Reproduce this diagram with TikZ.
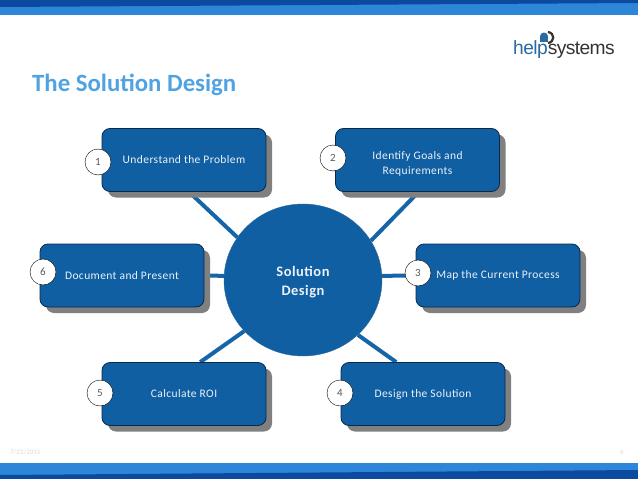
\documentclass[tikz,border=0pt]{standalone}
\usepackage{fontspec}
\usepackage{tikz}
\usetikzlibrary{shapes.geometric,shadows,backgrounds}
\setmainfont{Carlito}
\newfontfamily\logofont[LetterSpace=-3]{Liberation Sans}
\newfontfamily\spacedfont[LetterSpace=3.5]{Carlito}
\definecolor{boxblue}{HTML}{105FA3}
\definecolor{boxedge}{HTML}{0A2A4A}
\definecolor{linkblue}{HTML}{1565A8}
\definecolor{banddark}{HTML}{0B4A9E}
\definecolor{bandlight}{HTML}{2E86D8}
\definecolor{titleblue}{HTML}{4FA3E3}
\tikzset{
	stepbox/.style={draw=boxedge,thick,fill=boxblue,rounded corners=8pt,minimum width=164pt,minimum height=63pt,text=white!92!boxblue,align=center,font=\spacedfont\fontsize{11.5}{15}\selectfont,general shadow={fill=black!50,shadow xshift=6pt,shadow yshift=-6pt}},
	numdot/.style={circle,draw=black,fill=white,minimum size=26pt,inner sep=0pt,text=black!65,font=\fontsize{11}{12}\selectfont},
	hubdot/.style={ellipse,draw=boxblue!75!gray,fill=boxblue,minimum width=158pt,minimum height=152pt,inner sep=0pt,text=white!92!boxblue,align=center,font=\bfseries\spacedfont\fontsize{14.5}{19}\selectfont},
	link/.style={linkblue,line width=4pt},
	footnote/.style={text=black!15,font=\fontsize{7}{8}\selectfont}
}

\begin{document}
\begin{tikzpicture}[x=1pt,y=-1pt]
	\useasboundingbox (0,0) rectangle (638,479);
	\fill[bandlight] (0,0) rectangle (638,15);
	\fill[banddark] (0,0) -- (638,0) -- (638,3) -- (0,7) -- cycle;
	\fill[bandlight] (0,463) rectangle (638,479);
	\fill[banddark] (0,479) -- (638,479) -- (638,470) -- (0,475) -- cycle;

	\node[anchor=west,inner sep=0pt,text=titleblue,font=\bfseries\fontsize{24.8}{28}\selectfont] (title) at (32,85) {The Solution Design};

	\node[anchor=west,inner sep=0pt,font=\logofont\fontsize{19.2}{20}\selectfont] (logo) at (513,50) {\textcolor{linkblue!80!gray}{help}\textcolor{black!80}{systems}};
	\fill[linkblue!80!gray] (544,36.5) circle (4pt);
	\fill[linkblue!80!gray] (540,37) -- (548,37) -- (548,42) -- (540,42) -- cycle;
	\draw[black!80,line width=2.2pt] (548,32) .. controls (555,33) and (555,42) .. (548,43);

	\node[hubdot,text height=33pt] (hub) at (303,280) {Solution\\Design};

	\node[stepbox] (understand) at (184,160) {Understand the Problem};
	\node[stepbox,text height=30pt] (goals) at (417.5,160) {Identify Goals and\\Requirements};
	\node[stepbox] (map) at (498,275.5) {Map the Current Process};
	\node[stepbox] (design) at (423,394) {Design the Solution};
	\node[stepbox] (roi) at (184,394) {Calculate ROI};
	\node[stepbox] (document) at (122,275.5) {Document and Present};

	\node[numdot] (numone) at (98,162) {1};
	\node[numdot] (numtwo) at (333,158) {2};
	\node[numdot] (numthree) at (418,273) {3};
	\node[numdot] (numfour) at (340,393) {4};
	\node[numdot] (numfive) at (100,393) {5};
	\node[numdot] (numsix) at (43,272) {6};

	\begin{scope}[on background layer]
		\draw[link] (understand.-81) -- (hub.147.5);
		\draw[link] (goals.-88) -- (hub.30.5);
		\draw[link] (hub.3) -- (map.west);
		\draw[link] (design.130) -- (hub.-45);
		\draw[link] (roi.63) -- (hub.-139);
		\draw[link] (hub.177) -- (document.east);
	\end{scope}

	\node[footnote,anchor=west,inner sep=0pt] (date) at (10,452) {7/23/2015};
	\node[footnote,inner sep=0pt] (page) at (622,452) {6};
\end{tikzpicture}
\end{document}
